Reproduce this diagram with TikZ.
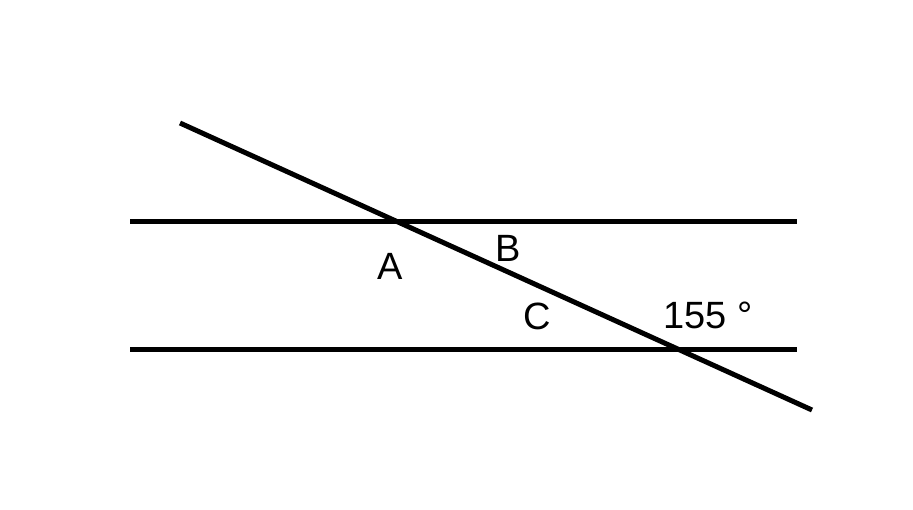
\documentclass[tikz,border=0pt]{standalone}
\usepackage{fontspec}
\setmainfont{Liberation Sans}
\begin{document}
\begin{tikzpicture}[x=1pt,y=-1pt,ln/.style={line width=5pt},lbl/.style={font=\fontsize{38}{40}\selectfont,inner sep=0pt}]
\useasboundingbox (0,0) rectangle (913,509);
\coordinate (t1) at (130,221); \coordinate (t2) at (797,221);
\coordinate (b1) at (130,349); \coordinate (b2) at (797,349);
\coordinate (s1) at (180,123); \coordinate (s2) at (812,410);
\draw[ln] (t1) -- (t2);
\draw[ln] (b1) -- (b2);
\draw[ln] (s1) -- (s2);
\node[lbl] (A) at (390,266) {A};
\node[lbl] (B) at (508,248) {B};
\node[lbl] (C) at (537,316) {C};
\node[lbl] (ang) at (708,315) {155 °};
\end{tikzpicture}
\end{document}
